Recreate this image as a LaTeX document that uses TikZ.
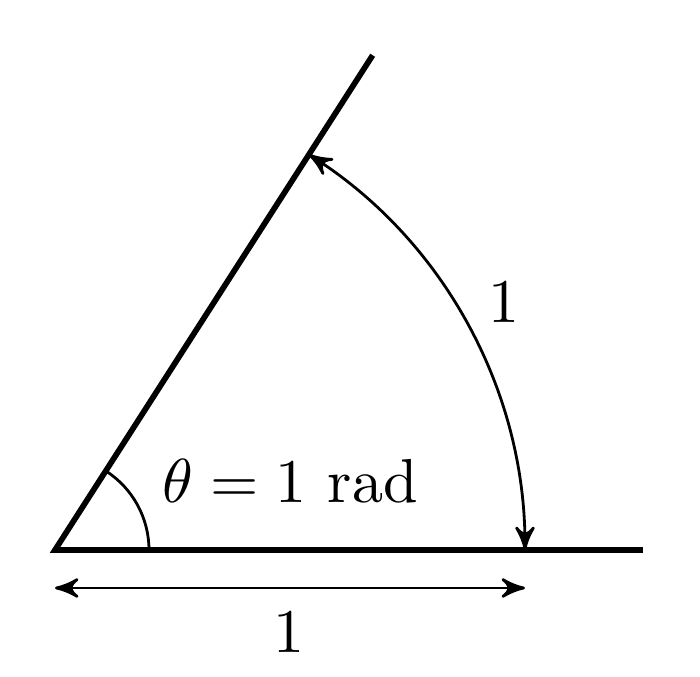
\documentclass[tikz,border=0pt]{standalone}
\usetikzlibrary{calc,arrows}
\begin{document}
\begin{tikzpicture}[x=0.161pt,y=0.161pt,
  ray/.style={line width=0.92pt},
  thinline/.style={line width=0.45pt},
  measure/.style={thinline,stealth'-stealth'},
  lbl/.style={inner sep=0pt}]
\useasboundingbox (0,0) rectangle (700,677);
\coordinate (O) at (55,127);
\coordinate (A) at (643,127);
\coordinate (B) at ($(O)+(57.2958:588)$);
\coordinate (P) at (525,127);
\coordinate (S) at (149,127);
\coordinate (L1) at (55,89);
\coordinate (L2) at (525,89);
\draw[ray] (B) -- (O) -- (A);
\draw[thinline] (S) arc (0:57.2958:15.13pt);
\draw[measure] (P) arc (0:57.2958:75.67pt) coordinate (Q);
\draw[measure] (L1) -- (L2);
\node[lbl] (t) at (504,375) {$1$};
\node[lbl] (b) at (289,45) {$1$};
\node[lbl,anchor=base] (th) at (290,175) {$\theta = 1$ rad};
\end{tikzpicture}
\end{document}
